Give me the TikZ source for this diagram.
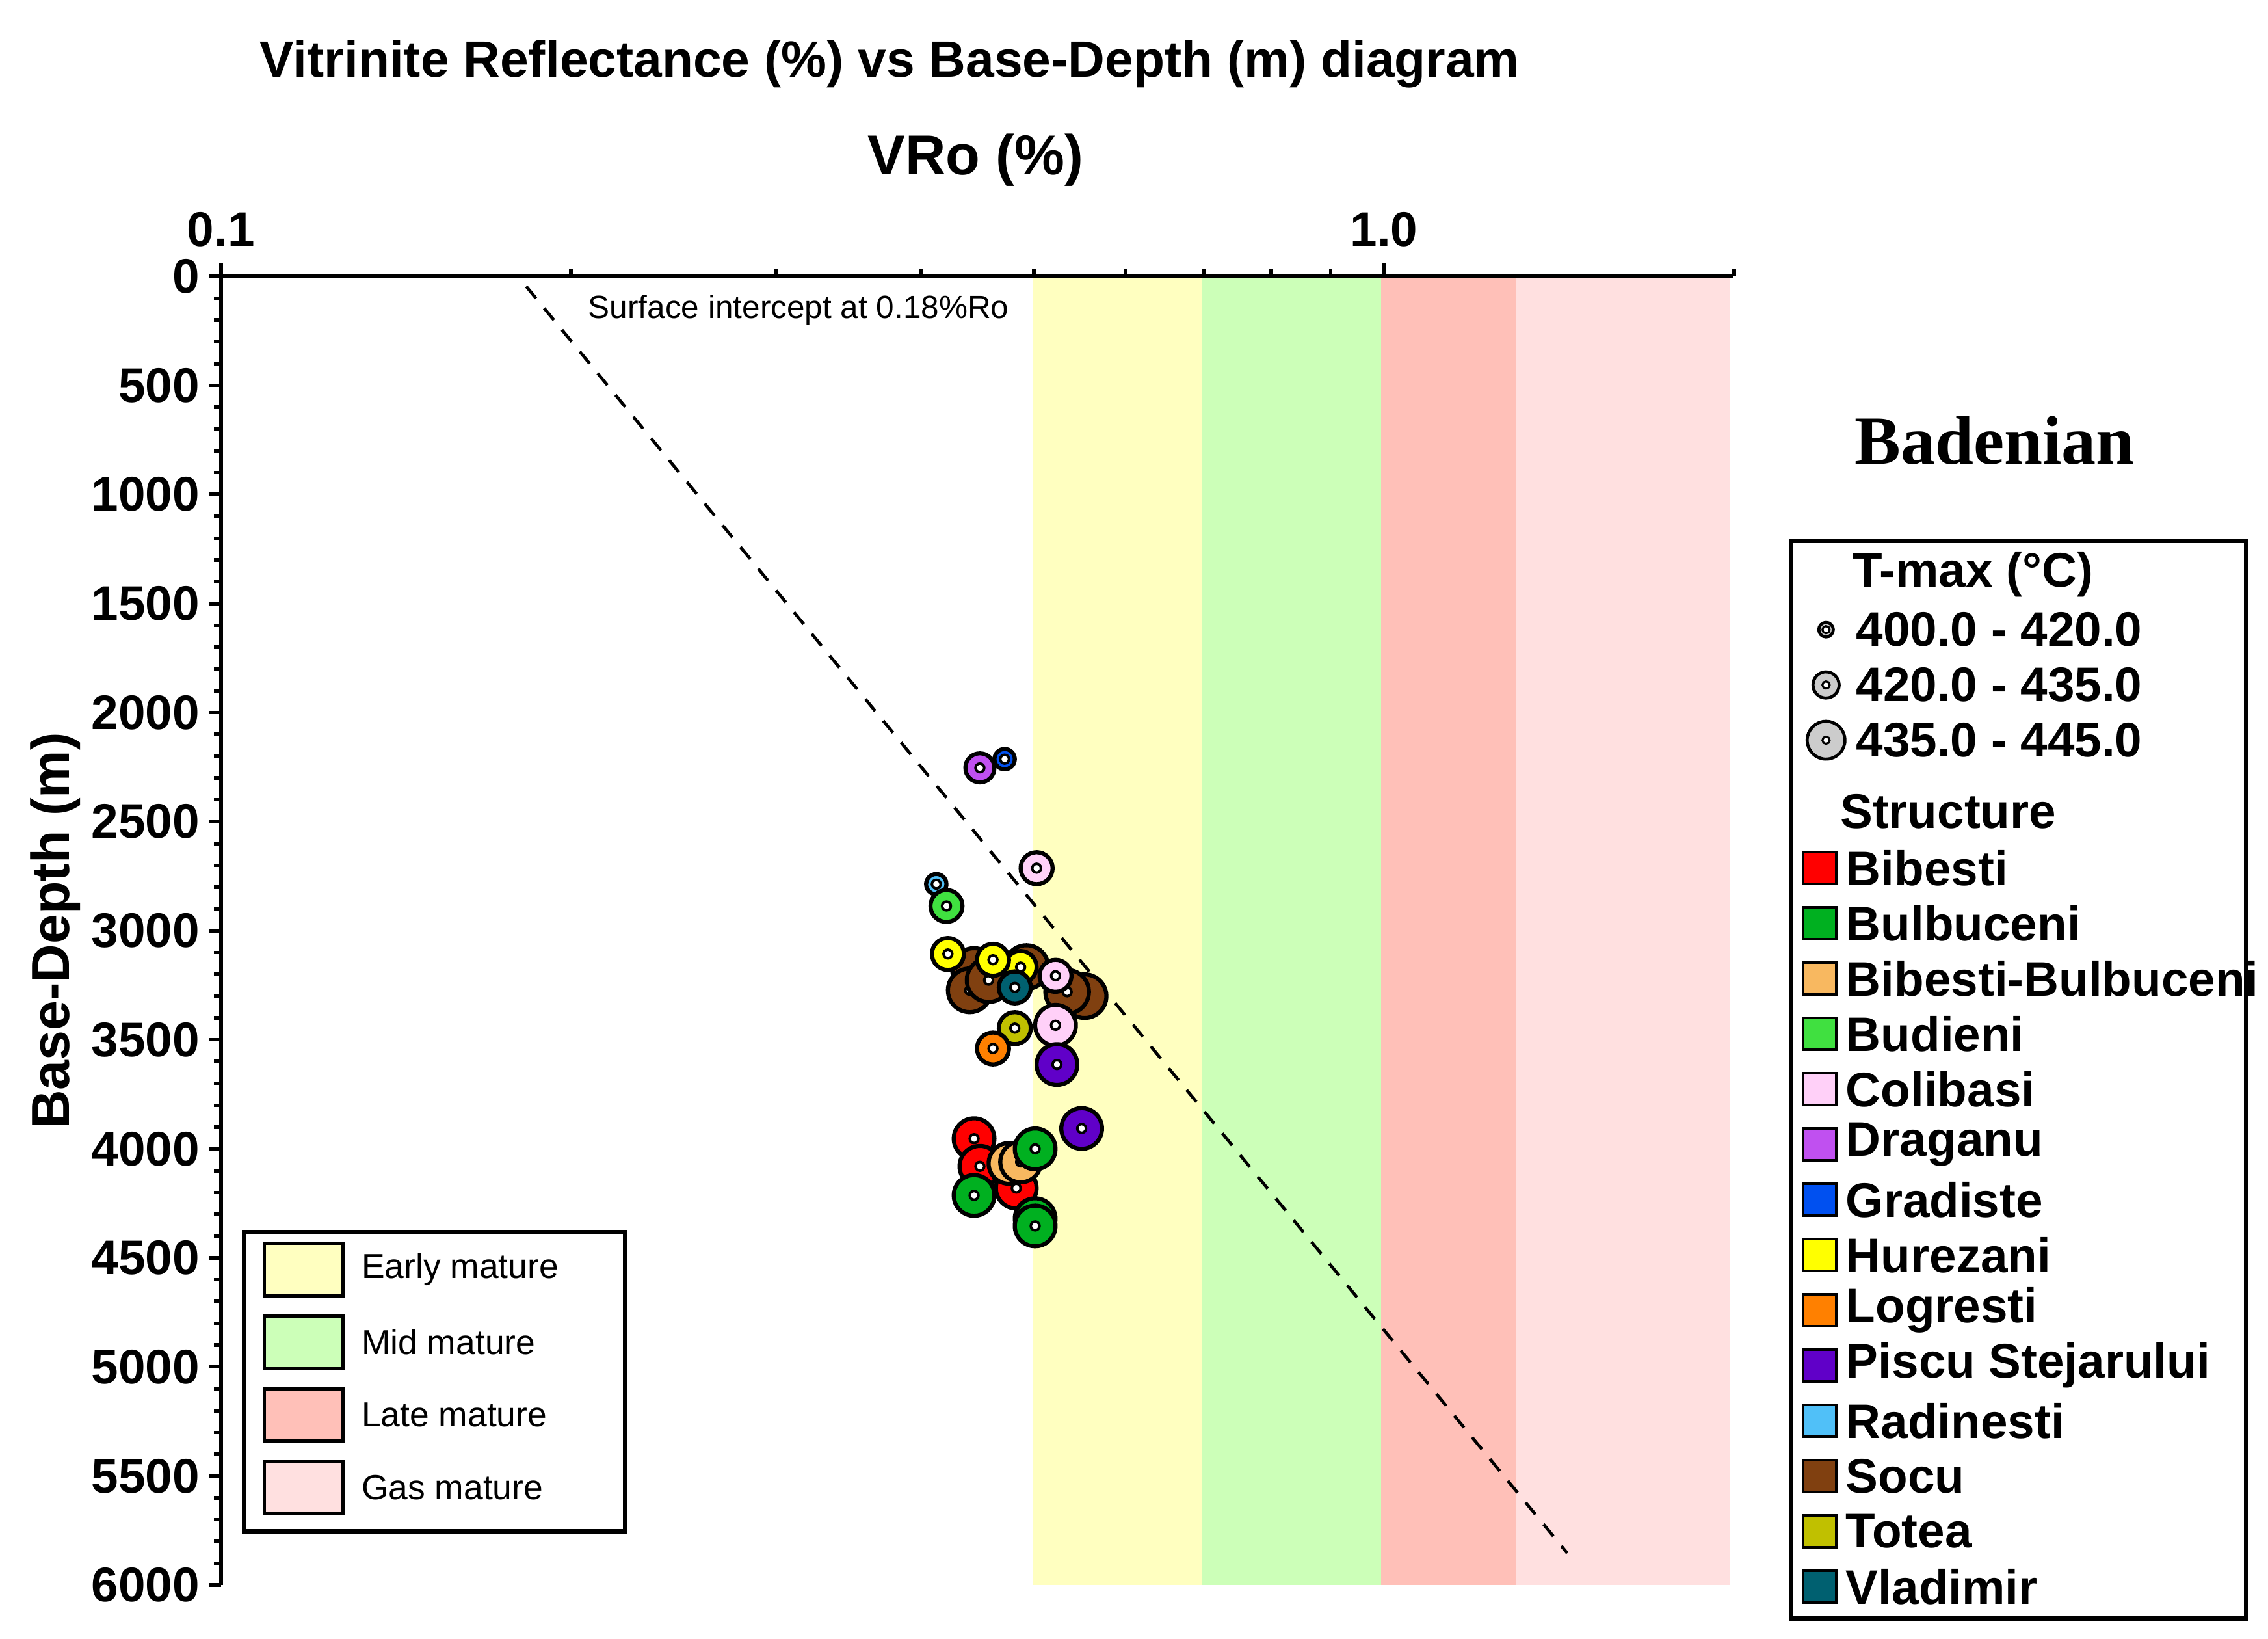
\documentclass[tikz,border=0pt]{standalone}
\usepackage{fontspec}
\setmainfont{Liberation Sans}
\newfontfamily\serifb{Liberation Serif}
\begin{document}
\begin{tikzpicture}[x=0.1mm,y=-0.1mm,
  lbl/.style={font=\bfseries\fontsize{9.5}{11}\selectfont, inner sep=0pt},
  smalllbl/.style={font=\fontsize{6.8}{8}\selectfont, inner sep=0pt, anchor=west},
  sw/.style={draw=black, line width=0.5pt}]
\useasboundingbox (0,0) rectangle (1560,1127);
\definecolor{cy}{HTML}{FFFFC0}\definecolor{cg}{HTML}{CCFFB8}
\definecolor{cr}{HTML}{FFC0B8}\definecolor{cp}{HTML}{FFE0E0}
\definecolor{Bib}{HTML}{FF0000}\definecolor{Bul}{HTML}{00B020}
\definecolor{BiB}{HTML}{F8B860}\definecolor{Bud}{HTML}{40E040}
\definecolor{Col}{HTML}{FFD0F8}\definecolor{Dra}{HTML}{C050F0}
\definecolor{Gra}{HTML}{0050F0}\definecolor{Hur}{HTML}{FFFF00}
\definecolor{Log}{HTML}{FF8000}\definecolor{Pis}{HTML}{6000C8}
\definecolor{Rad}{HTML}{50C0F8}\definecolor{Soc}{HTML}{804010}
\definecolor{Tot}{HTML}{C0C000}\definecolor{Vla}{HTML}{006070}
% bands
\fill[cy] (710,190) rectangle (827,1090);
\fill[cg] (827,190) rectangle (950,1090);
\fill[cr] (950,190) rectangle (1043,1090);
\fill[cp] (1043,190) rectangle (1190,1090);
% titles
\node[lbl, font=\bfseries\fontsize{10}{12}\selectfont] (title) at (612,44) {Vitrinite Reflectance (\%) vs Base-Depth (m) diagram};
\node[lbl, font=\bfseries\fontsize{11}{13}\selectfont] (vro) at (671,110) {VRo (\%)};
\node[lbl, font=\bfseries\fontsize{10.5}{12}\selectfont, rotate=90] (bd) at (38,640) {Base-Depth (m)};
% axes
\draw[line width=0.8pt] (152,190) -- (1192,190);
\draw[line width=0.8pt] (152,190) -- (152,1090);
\foreach \v in {2,3,4,5,6,7,8,9,20}{
  \pgfmathsetmacro\xx{152+800*log10(\v)}
  \draw[line width=0.7pt] (\xx,190) -- (\xx,185);}
\draw[line width=0.7pt] (152,190) -- (152,181) (952,190) -- (952,181);
\node[lbl] (t01) at (152,158) {0.1};
\node[lbl] (t10) at (952,158) {1.0};
\foreach \d in {0,100,...,6000}{
  \draw[line width=0.7pt] (152,{190+0.15*\d}) -- (147,{190+0.15*\d});}
\foreach \d in {0,500,...,6000}{
  \draw[line width=0.7pt] (152,{190+0.15*\d}) -- (144,{190+0.15*\d});
  \node[lbl, anchor=east] at (138,{190+0.15*\d}) {\d};}
% trend
\draw[dashed, line width=0.6pt, dash pattern=on 3pt off 2.5pt] (362,197) -- (1078,1068);
\node[smalllbl, font=\fontsize{6.3}{7}\selectfont] (si) at (404,213) {Surface intercept at 0.18\%Ro};
% points
\newcommand\mypt[4]{\filldraw[fill=#3, draw=black, line width=0.8pt] (#1,#2) circle[radius=#4];
  \filldraw[fill=white, draw=black, line width=0.5pt] (#1,#2) circle[radius=3];}
\mypt{674}{528}{Dra}{10}
\mypt{691}{522}{Gra}{7}
\mypt{713}{597}{Col}{11}
\mypt{644}{608}{Rad}{7}
\mypt{651}{623}{Bud}{11}
\mypt{670}{667}{Soc}{15}
\mypt{667}{681}{Soc}{15}
\mypt{680}{674}{Soc}{15}
\mypt{706}{665}{Soc}{15}
\mypt{746}{685}{Soc}{15}
\mypt{734}{682}{Soc}{15}
\mypt{652}{656}{Hur}{11}
\mypt{702}{665}{Hur}{11}
\mypt{683}{660}{Hur}{11}
\mypt{698}{679}{Vla}{11}
\mypt{726}{671}{Col}{11}
\mypt{726}{705}{Col}{14}
\mypt{698}{707}{Tot}{11}
\mypt{683}{721}{Log}{11}
\mypt{727}{732}{Pis}{14}
\mypt{744}{776}{Pis}{14}
\mypt{670}{783}{Bib}{14}
\mypt{699}{817}{Bib}{14}
\mypt{674}{802}{Bib}{14}
\mypt{694}{800}{BiB}{14}
\mypt{702}{799}{BiB}{14}
\mypt{712}{790}{Bul}{14}
\mypt{670}{822}{Bul}{14}
\mypt{712}{838}{Bul}{14}
\mypt{712}{843}{Bul}{14}
% left legend
\draw[line width=0.8pt, fill=white] (168,847) rectangle (430,1053);
\foreach \c/\t [count=\i from 0] in {cy/Early mature,cg/Mid mature,cr/Late mature,cp/Gas mature}{
  \draw[fill=\c, line width=0.6pt] (182,{855+50*\i}) rectangle (236,{891+50*\i});
  \node[smalllbl] at (248,{873+50*\i}) {\t};}
% Badenian
\node[font=\serifb\bfseries\fontsize{13.5}{15}\selectfont, inner sep=0pt] (bad) at (1372,303) {Badenian};
% right legend
\draw[line width=0.8pt, fill=white] (1232,372) rectangle (1545,1113);
\node[lbl] (tmax) at (1357,395) {T-max (°C)};
\foreach \r/\t [count=\i from 0] in {5/400.0 - 420.0,9/420.0 - 435.0,13/435.0 - 445.0}{
  \filldraw[fill=black!20, draw=black, line width=0.6pt] (1256,{433+38*\i}) circle[radius=\r];
  \filldraw[fill=white, draw=black, line width=0.4pt] (1256,{433+38*\i}) circle[radius=2.5];
  \node[lbl, anchor=west] at (1276,{433+38*\i}) {\t};}
\node[lbl] (struct) at (1340,558) {Structure};
\foreach \c/\t [count=\i from 0] in {Bib/Bibesti,Bul/Bulbuceni,BiB/Bibesti-Bulbuceni,Bud/Budieni,Col/Colibasi,Dra/Draganu,Gra/Gradiste,Hur/Hurezani,Log/Logresti,Pis/Piscu Stejarului,Rad/Radinesti,Soc/Socu,Tot/Totea,Vla/Vladimir}{
  \draw[fill=\c, line width=0.5pt] (1240,{586+38*\i}) rectangle (1263,{608+38*\i});
  \node[lbl, anchor=west] at (1269,{597+38*\i}) {\t};}
\end{tikzpicture}
\end{document}
